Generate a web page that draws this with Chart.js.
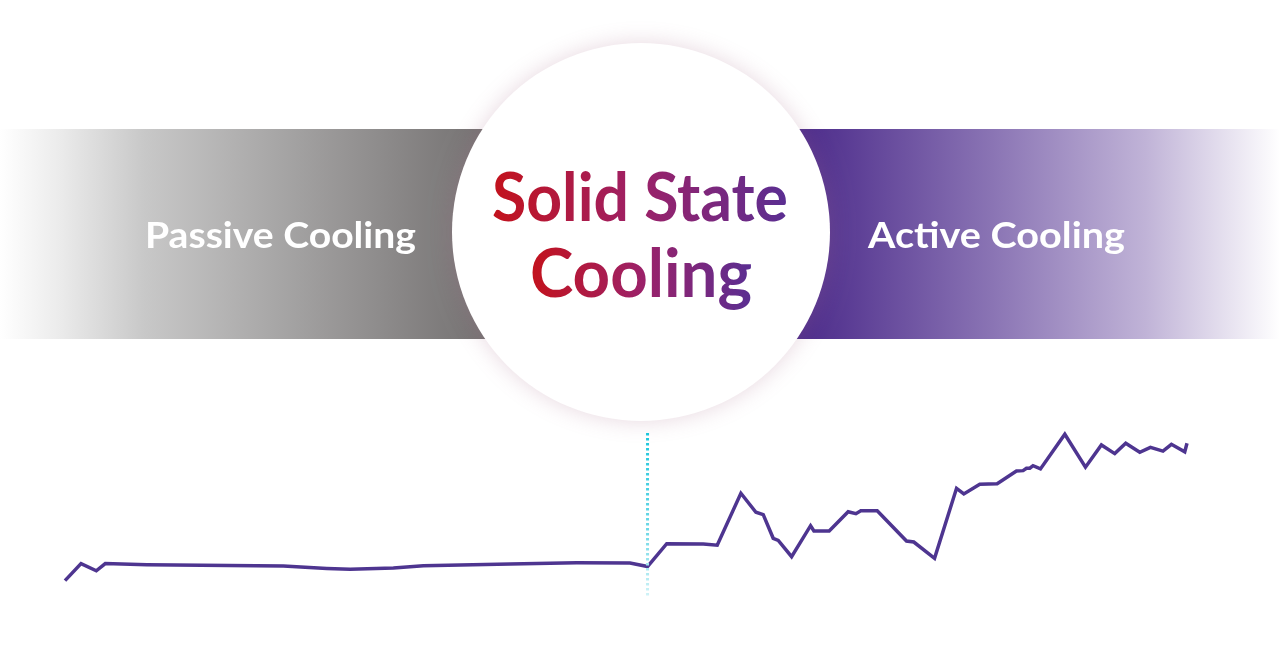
<!DOCTYPE html>
<html>
<head>
<meta charset="utf-8">
<script src="https://cdn.jsdelivr.net/npm/chart.js@4.4.1/dist/chart.umd.min.js"></script>
<style>
  html, body { margin: 0; padding: 0; background: #fff; }
  #wrap { width: 1280px; height: 656px; position: relative; }
</style>
</head>
<body>
<div id="wrap"><canvas id="coolChart"></canvas></div>
<script>
// time (% of the period) and performance level
var timeVals = [0, 1.43, 2.79, 3.59, 7.30, 19.47, 23.34, 25.41, 29.27, 31.94,
  39.67, 45.61, 50.36, 51.92, 53.63, 56.89, 58.13, 60.24, 61.58, 62.23,
  63.12, 63.57, 64.76, 66.45, 66.75, 68.11, 69.80, 70.49, 70.93, 72.39,
  75.00, 75.65, 77.50, 79.46, 80.11, 81.53, 83.08, 84.80, 85.39, 85.69,
  85.99, 86.28, 86.94, 89.11, 90.95, 92.37, 93.56, 94.54, 95.79, 96.74,
  97.86, 98.61, 99.80, 100];
var levelVals = [11.4, 21.4, 17.2, 21.4, 20.8, 20.0, 18.6, 18.1, 18.8, 20.2,
  21.2, 21.9, 21.8, 19.7, 33.1, 32.9, 32.2, 62.8, 51.6, 50.2,
  36.3, 35.1, 25.5, 43.7, 40.6, 40.6, 51.9, 50.8, 52.5, 52.5,
  34.7, 34.1, 24.5, 65.7, 62.4, 68.1, 68.4, 75.9, 76.1, 77.5,
  77.5, 79.0, 77.1, 97.5, 78.1, 91.2, 86.1, 92.2, 86.9, 89.8,
  87.6, 91.6, 87.2, 92.2];
var switchTime = 51.92;   // where solid state cooling starts
var titleLines = ["Solid State", "Cooling"];
var leftLabel = "Passive Cooling";
var rightLabel = "Active Cooling";

var points = timeVals.map(function(t, i){ return {x: t, y: levelVals[i]}; });

// draw text centred at cx, stretched sideways to a given width
// if colours given, fill with a left-to-right gradient over the text
function wideText(ctx, txt, cx, y, width, colours){
  var w = ctx.measureText(txt).width;
  var sx = width / w;
  ctx.save();
  ctx.translate(cx, y);
  ctx.scale(sx, 1);
  if (colours) {
    var g = ctx.createLinearGradient(-w / 2, 0, w / 2, 0);
    colours.forEach(function(c, i){ g.addColorStop(i / (colours.length - 1), c); });
    ctx.fillStyle = g;
  }
  ctx.fillText(txt, 0, 0);
  ctx.restore();
}

// band, circle and labels behind the line
var backdrop = {
  id: 'backdrop',
  beforeDraw: function(chart){
    var ctx = chart.ctx;
    ctx.save();
    var g1 = ctx.createLinearGradient(0, 0, 480, 0);
    g1.addColorStop(0, '#ffffff');
    g1.addColorStop(0.12, '#ececec');
    g1.addColorStop(0.3, '#c8c8c8');
    g1.addColorStop(1, '#757272');
    ctx.fillStyle = g1;
    ctx.fillRect(0, 129, 500, 210);

    var g2 = ctx.createLinearGradient(800, 0, 1280, 0);
    g2.addColorStop(0, '#4b2a8a');
    g2.addColorStop(0.4, '#8a74b4');
    g2.addColorStop(0.72, '#c0b3d7');
    g2.addColorStop(1, '#ffffff');
    ctx.fillStyle = g2;
    ctx.fillRect(780, 129, 500, 210);

    ctx.fillStyle = '#ffffff';
    ctx.font = 'bold 36px Lato';
    ctx.textBaseline = 'alphabetic';
    ctx.textAlign = 'center';
    wideText(ctx, leftLabel, 280.5, 248, 271);
    wideText(ctx, rightLabel, 996.5, 248, 257);

    ctx.beginPath();
    ctx.arc(641, 232, 189, 0, Math.PI * 2);
    ctx.shadowColor = 'rgba(170, 110, 140, 0.28)';
    ctx.shadowBlur = 22;
    ctx.fillStyle = '#ffffff';
    ctx.fill();
    ctx.shadowColor = 'transparent';

    var titleCols = ['#c3121c', '#9c2168', '#5a2e92'];
    ctx.font = 'bold 66px Lato';
    wideText(ctx, titleLines[0], 640, 221, 296, titleCols);
    wideText(ctx, titleLines[1], 641, 297, 222, titleCols);
    ctx.restore();
  },
  afterDatasetsDraw: function(chart){
    var ctx = chart.ctx, area = chart.chartArea;
    var x = chart.scales.x.getPixelForValue(switchTime);
    ctx.save();
    var dg = ctx.createLinearGradient(0, area.top, 0, area.bottom);
    dg.addColorStop(0, '#17c5db');
    dg.addColorStop(0.6, '#6fd8e6');
    dg.addColorStop(1, '#d6f4f8');
    ctx.strokeStyle = dg;
    ctx.lineWidth = 3;
    ctx.setLineDash([2.5, 2.5]);
    ctx.beginPath();
    ctx.moveTo(x, area.top + 3);
    ctx.lineTo(x, area.bottom - 2);
    ctx.stroke();
    ctx.restore();
  }
};

new Chart(document.getElementById('coolChart'), {
  type: 'line',
  data: {
    datasets: [{
      data: points,
      borderColor: '#4e3590',
      borderWidth: 3.5,
      pointRadius: 0,
      tension: 0,
      fill: false,
      clip: false
    }]
  },
  options: {
    responsive: true,
    maintainAspectRatio: false,
    animation: false,
    layout: { padding: { left: 65, right: 93, top: 430, bottom: 56 } },
    scales: {
      x: { type: 'linear', min: 0, max: 100, display: false },
      y: { min: 0, max: 100, display: false }
    },
    plugins: { legend: { display: false }, tooltip: { enabled: false } }
  },
  plugins: [backdrop]
});
</script>
</body>
</html>
